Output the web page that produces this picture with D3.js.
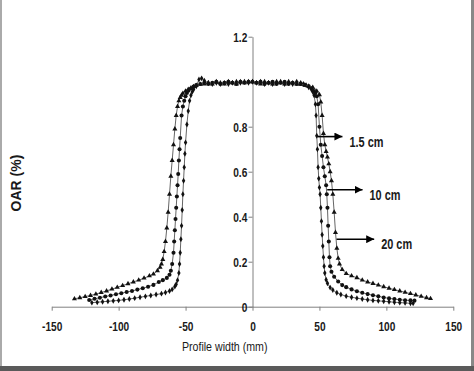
<!DOCTYPE html>
<html>
<head>
<meta charset="utf-8">
<script src="https://d3js.org/d3.v7.min.js"></script>
<style>
  body { margin: 0; background: #fff; }
  svg { display: block; }
  .tick text { font-family: "Liberation Sans", Arial, sans-serif; font-weight: bold; font-size: 13.5px; fill: #1a1a1a; }
  .axis path, .axis line { stroke: #808080; stroke-width: 1; }
  .curve { fill: none; stroke: #666; stroke-width: 1; }
  .lbl { font-family: "Liberation Sans", Arial, sans-serif; fill: #1a1a1a; }
</style>
</head>
<body>
<script>
// x positions (mm) and OAR values for each depth
var depths = ["1.5 cm", "10 cm", "20 cm"];

var x15 = [-120,-116,-112,-108,-104,-100,-96,-92,-88,-84,-80,-76,-72,-68,-65,-62,-60,-58,-57,-56,-55,-54.5,-54,-53.5,-53,-52.5,-52,-51.5,-51,-50.5,-50,-49,-48,-47,-46,-45,-44,-42,-40,-38,-36,-33,-30,-27,-24,-21,-18,-15,-12,-9,-6,-3,0,
  3,6,9,12,15,18,21,24,27,30,33,36,38,40,42,44,45,46,47,47.5,48,48.5,49,49.5,50,50.5,51,51.5,52,52.5,53,53.5,54,55,56,58,60,63,66,70,74,78,82,86,90,94,98,102,106,110,114,118,120];
var y15 = [0.018,0.020,0.022,0.024,0.026,0.028,0.031,0.034,0.038,0.042,0.046,0.050,0.054,0.058,0.063,0.070,0.077,0.090,0.100,0.118,0.150,0.190,0.240,0.300,0.360,0.430,0.500,0.560,0.620,0.680,0.730,0.810,0.870,0.915,0.940,0.955,0.965,0.980,1.010,1.015,1.005,0.995,0.990,0.995,0.990,0.995,0.990,0.995,1.000,0.995,1.000,0.995,1.000,
  0.995,1.000,0.990,0.995,0.990,0.995,1.000,0.990,0.995,0.990,1.000,0.995,0.990,0.985,0.975,0.965,0.955,0.940,0.900,0.850,0.760,0.700,0.620,0.570,0.530,0.500,0.440,0.380,0.320,0.270,0.220,0.180,0.150,0.120,0.104,0.085,0.074,0.062,0.054,0.047,0.042,0.038,0.034,0.031,0.028,0.026,0.024,0.022,0.020,0.018,0.017,0.015,0.015];

var x10 = [-122,-118,-114,-110,-106,-102,-98,-94,-90,-86,-82,-78,-74,-70,-67,-64,-62,-61,-60,-59,-58.5,-58,-57.5,-57,-56.5,-56,-55.5,-55,-54.5,-54,-53,-52,-51,-50,-49,-48,-46,-44,-42,-39,-36,-33,-30,-27,-24,-21,-18,-15,-12,-9,-6,-3,0,
  3,6,9,12,15,18,21,24,27,30,33,36,39,42,44,46,47,48,49,50,51,52,53,54,55,55.5,56,56.5,57,57.5,58,59,61,64,67,70,74,78,82,86,90,94,98,102,106,110,114,118,121];
var y10 = [0.030,0.035,0.040,0.045,0.050,0.055,0.060,0.065,0.070,0.076,0.082,0.089,0.097,0.110,0.118,0.128,0.142,0.160,0.190,0.240,0.290,0.340,0.390,0.440,0.490,0.540,0.590,0.650,0.700,0.750,0.850,0.890,0.915,0.935,0.950,0.960,0.970,0.978,0.985,0.990,0.995,0.990,0.995,1.000,0.990,0.995,1.000,0.995,0.990,1.000,0.995,1.000,1.000,
  0.995,1.000,0.990,0.995,1.000,0.990,0.995,1.000,0.990,0.995,0.990,0.990,0.985,0.980,0.972,0.962,0.950,0.935,0.900,0.800,0.720,0.670,0.620,0.580,0.540,0.500,0.440,0.360,0.290,0.220,0.180,0.155,0.133,0.112,0.096,0.087,0.077,0.069,0.062,0.056,0.051,0.046,0.041,0.037,0.034,0.031,0.029,0.028,0.027];

var x20 = [-133,-129,-125,-121,-117,-113,-109,-105,-101,-97,-93,-89,-85,-81,-77,-74,-71,-69,-68,-67,-66,-65,-64,-63,-62,-61,-60,-59,-58,-57,-56,-55,-54,-53,-52,-50,-48,-46,-44,-42,-39,-36,-33,-30,-27,-24,-21,-18,-15,-12,-9,-6,-3,0,
  3,6,9,12,15,18,21,24,27,30,33,36,39,42,45,48,50,51,52,53,54,55,56,57,58,59,60,61,62,63,64,65,67,70,74,78,82,86,90,94,98,102,106,110,114,118,122,126,130,133];
var y20 = [0.035,0.040,0.045,0.050,0.056,0.063,0.070,0.078,0.086,0.094,0.102,0.110,0.118,0.127,0.137,0.145,0.160,0.175,0.190,0.210,0.245,0.290,0.350,0.420,0.500,0.580,0.650,0.720,0.790,0.850,0.890,0.915,0.930,0.940,0.948,0.958,0.966,0.972,0.978,0.983,0.988,0.990,0.995,0.990,1.000,0.995,0.990,1.000,0.995,0.990,1.000,0.995,1.000,1.000,
  0.995,0.990,1.000,0.995,0.990,1.000,0.995,0.990,1.000,0.995,0.990,0.988,0.985,0.980,0.975,0.958,0.942,0.910,0.850,0.770,0.720,0.690,0.665,0.635,0.600,0.560,0.500,0.420,0.330,0.260,0.215,0.190,0.165,0.147,0.137,0.129,0.118,0.110,0.103,0.096,0.089,0.082,0.076,0.070,0.064,0.058,0.052,0.046,0.040,0.036];

// arrow annotations: start on curve [x, y], tip x
var arrowStart = [[48.6, 0.756], [55.8, 0.52], [62.8, 0.30]];
var arrowTipX = [67.2, 82.2, 90.9];

var xTicks = [-150, -100, -50, 0, 50, 100, 150];
var yTicks = [0, 0.2, 0.4, 0.6, 0.8, 1, 1.2];
var yTickLabels = ["0", "0.2", "0.4", "0.6", "0.8", "", "1.2"]; // "1" sits under the plateau

var W = 474, H = 371;
var svg = d3.select("body").append("svg").attr("width", W).attr("height", H);

var x = d3.scaleLinear().domain([-150, 150]).range([51.7, 453.3]);
var y = d3.scaleLinear().domain([0, 1.2]).range([306.7, 36.7]);

// frame
svg.append("line").attr("x1", 1).attr("x2", 1).attr("y1", 0).attr("y2", H).attr("stroke", "#aaa").attr("stroke-width", 2);
svg.append("line").attr("x1", 472.5).attr("x2", 472.5).attr("y1", 0).attr("y2", H).attr("stroke", "#888").attr("stroke-width", 3);
svg.append("rect").attr("x", 0).attr("y", 366).attr("width", W).attr("height", 5).attr("fill", "#5a5a5a");

// axes
var xAxis = svg.append("g").attr("class", "axis")
    .attr("transform", "translate(0," + y(0) + ")")
    .call(d3.axisBottom(x).tickValues(xTicks).tickSize(4).tickSizeOuter(0).tickPadding(11)
      .tickFormat(function(d) { return d < 0 ? "-" + Math.abs(d) : d; }));

var yAxis = svg.append("g").attr("class", "axis")
    .attr("transform", "translate(" + x(0) + ",0)")
    .call(d3.axisLeft(y).tickValues(yTicks).tickSize(4).tickSizeOuter(0).tickPadding(3)
      .tickFormat(function(d, i) { return yTickLabels[i]; }));

// narrow the tick labels like the original condensed face
svg.selectAll(".tick text").attr("transform", "scale(0.75,1)");

// curves
var series = [
  {xs: x15, ys: y15, sym: d3.symbolDiamond, size: 10},
  {xs: x10, ys: y10, sym: d3.symbolCircle, size: 13},
  {xs: x20, ys: y20, sym: d3.symbolTriangle, size: 11}
];

var line = d3.line()
    .x(function(d) { return x(d[0]); })
    .y(function(d) { return y(d[1]); });

series.forEach(function(s) {
  var pts = s.xs.map(function(v, i) { return [v, s.ys[i]]; });
  svg.append("path").datum(pts).attr("class", "curve").attr("d", line);
  svg.append("g").selectAll("path")
      .data(pts)
    .enter().append("path")
      .attr("transform", function(d) { return "translate(" + x(d[0]) + "," + y(d[1]) + ")"; })
      .attr("d", d3.symbol().type(s.sym).size(s.size))
      .attr("fill", "#111");
});

// arrows + labels
var defs = svg.append("defs");
defs.append("marker").attr("id", "head")
    .attr("viewBox", "0 0 10 10").attr("refX", 10).attr("refY", 5)
    .attr("markerWidth", 5).attr("markerHeight", 5).attr("orient", "auto")
    .attr("markerUnits", "strokeWidth")
  .append("path").attr("d", "M0,0L10,5L0,10Z").attr("fill", "#000");

arrowStart.forEach(function(a, i) {
  svg.append("line")
      .attr("x1", x(a[0])).attr("y1", y(a[1]))
      .attr("x2", x(arrowTipX[i])).attr("y2", y(a[1]))
      .attr("stroke", "#000").attr("stroke-width", 1.6)
      .attr("marker-end", "url(#head)");
  svg.append("text").attr("class", "lbl")
      .attr("transform", "translate(" + (x(arrowTipX[i]) + 7) + "," + (y(a[1]) + 10) + ") scale(0.78,1)")
      .attr("font-size", "14px").attr("font-weight", "bold")
      .text(depths[i]);
});

// axis titles
svg.append("text").attr("class", "lbl")
    .attr("transform", "translate(224.7,351) scale(0.85,1)")
    .attr("text-anchor", "middle").attr("font-size", "12.5px")
    .text("Profile width (mm)");

svg.append("text").attr("class", "lbl")
    .attr("transform", "translate(21,183) rotate(-90)")
    .attr("text-anchor", "middle").attr("font-size", "14px").attr("font-weight", "bold")
    .text("OAR (%)");
</script>
</body>
</html>
